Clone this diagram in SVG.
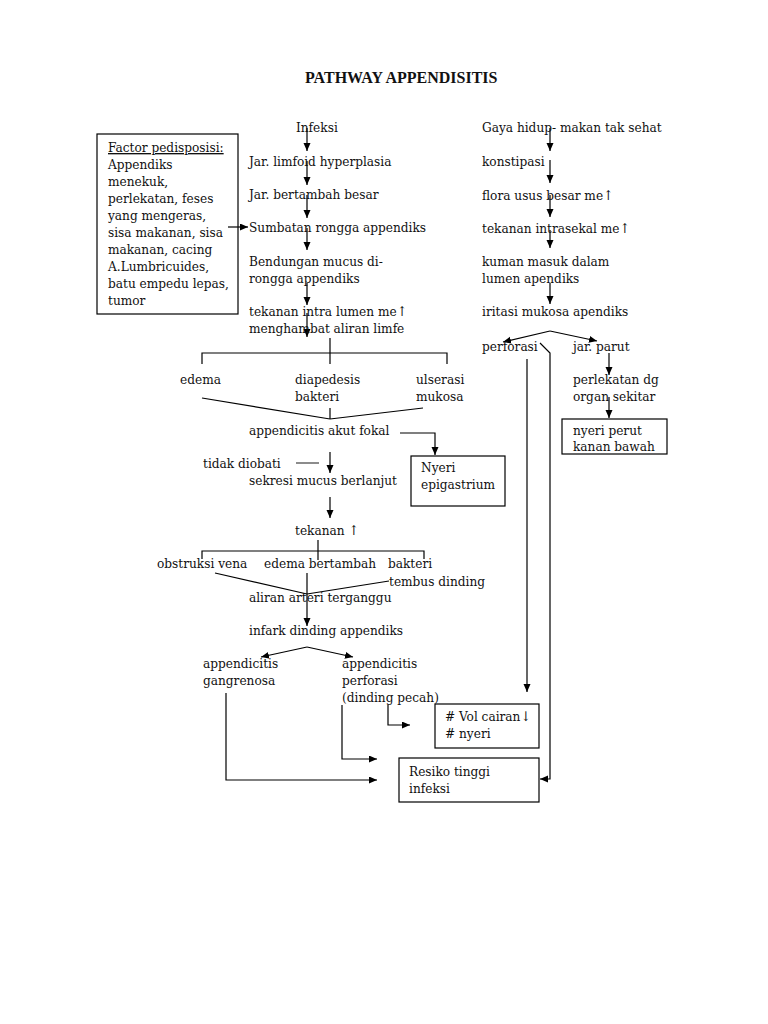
<svg xmlns="http://www.w3.org/2000/svg" width="768" height="1024" viewBox="0 0 768 1024">
<style>
  text { font-family: "DejaVu Serif Condensed", "DejaVu Serif", "Liberation Serif", serif; font-stretch: condensed; font-size: 13.5px; fill: #111; }
  .title { font-family: "Liberation Serif", "Times New Roman", serif; font-stretch: normal; font-size: 16px; font-weight: bold; }
  .box { fill: #fff; stroke: #000; stroke-width: 1.2; }
  .c { fill: none; stroke: #000; stroke-width: 1.2; }
  .a { fill: none; stroke: #000; stroke-width: 1.2; marker-end: url(#ah); }
  .g { fill: none; stroke: #666; stroke-width: 1.5; }
</style>
<defs>
  <marker id="ah" markerUnits="userSpaceOnUse" markerWidth="9" markerHeight="8" refX="8" refY="3.5" orient="auto">
    <path d="M0,0 L8,3.5 L0,7 z" fill="#000"/>
  </marker>
</defs>
<rect width="768" height="1024" fill="#fff"/>

<g id="title"><text class="title" x="305" y="83">PATHWAY APPENDISITIS</text></g>

<g id="factor">
  <rect class="box" x="97" y="134" width="141" height="180"/>
  <text x="108" y="152" text-decoration="underline">Factor pedisposisi:</text>
  <text x="108" y="169">Appendiks</text>
  <text x="108" y="186">menekuk,</text>
  <text x="108" y="203">perlekatan, feses</text>
  <text x="108" y="220">yang mengeras,</text>
  <text x="108" y="237">sisa makanan, sisa</text>
  <text x="108" y="254">makanan, cacing</text>
  <text x="108" y="271">A.Lumbricuides,</text>
  <text x="108" y="288">batu empedu lepas,</text>
  <text x="108" y="305">tumor</text>
</g>

<g id="connectors">
  <line class="a" x1="307" y1="128" x2="307" y2="151"/>
  <line class="a" x1="307" y1="161" x2="307" y2="185"/>
  <line class="a" x1="307" y1="195" x2="307" y2="218"/>
  <line class="a" x1="307" y1="228" x2="307" y2="250"/>
  <line class="a" x1="307" y1="283" x2="307" y2="305"/>
  <line class="a" x1="307" y1="313" x2="307" y2="337"/>
  <line class="a" x1="228" y1="227" x2="248" y2="227"/>
  <line class="c" x1="330" y1="338" x2="330" y2="364"/>
  <polyline class="c" points="202,364 202,353 447,353 447,364"/>
  <line class="c" x1="202" y1="398" x2="330" y2="419"/>
  <line class="c" x1="423" y1="408" x2="330" y2="419"/>
  <line class="c" x1="330" y1="408" x2="330" y2="419"/>
  <polyline class="a" points="400,433 435,433 435,455"/>
  <line class="g" x1="296" y1="463" x2="319" y2="463"/>
  <line class="a" x1="330" y1="452" x2="330" y2="473"/>
  <line class="a" x1="330" y1="497" x2="330" y2="518"/>
  <line class="c" x1="318" y1="540" x2="318" y2="560"/>
  <polyline class="c" points="202,559 202,551 424,551 424,559"/>
  <line class="c" x1="215" y1="573" x2="307" y2="594"/>
  <line class="c" x1="389" y1="581" x2="307" y2="594"/>
  <line class="c" x1="307" y1="573" x2="307" y2="596"/>
  <line class="a" x1="307" y1="596" x2="307" y2="626"/>
  <line class="a" x1="307" y1="647" x2="261" y2="657"/>
  <line class="a" x1="307" y1="647" x2="353" y2="657"/>
  <polyline class="a" points="226,693 226,780 377,780"/>
  <polyline class="a" points="342,705 342,759 377,759"/>
  <polyline class="a" points="388,705 388,725 410,725"/>

  <line class="a" x1="550" y1="128" x2="550" y2="151"/>
  <line class="a" x1="550" y1="160" x2="550" y2="183"/>
  <line class="a" x1="550" y1="195" x2="550" y2="217"/>
  <line class="a" x1="550" y1="230" x2="550" y2="248"/>
  <line class="a" x1="550" y1="283" x2="550" y2="304"/>
  <line class="a" x1="550" y1="331" x2="503" y2="342"/>
  <line class="a" x1="550" y1="331" x2="597" y2="341"/>
  <polyline class="a" points="540,343 550,353 550,779 540,779"/>
  <line class="a" x1="527" y1="359" x2="527" y2="692"/>
  <line class="a" x1="609" y1="353" x2="609" y2="375"/>
  <line class="a" x1="609" y1="397" x2="609" y2="418"/>
</g>

<g id="infeksi"><text x="296" y="132">Infeksi</text></g>
<g id="limfoid"><text x="249" y="166">Jar. limfoid hyperplasia</text></g>
<g id="bertambah"><text x="249" y="199">Jar. bertambah besar</text></g>
<g id="sumbatan"><text x="249" y="232">Sumbatan rongga appendiks</text></g>
<g id="bendungan"><text x="249" y="266">Bendungan mucus di-</text><text x="249" y="283">rongga appendiks</text></g>
<g id="tekanan-intra"><text x="249" y="316">tekanan intra lumen me↑</text><text x="249" y="333">menghambat aliran limfe</text></g>
<g id="edema"><text x="180" y="384">edema</text></g>
<g id="diapedesis"><text x="295" y="384">diapedesis</text><text x="295" y="401">bakteri</text></g>
<g id="ulserasi"><text x="416" y="384">ulserasi</text><text x="416" y="401">mukosa</text></g>
<g id="akut-fokal"><text x="249" y="435">appendicitis akut fokal</text></g>
<g id="nyeri-epi">
  <rect class="box" x="411" y="456" width="94" height="50"/>
  <text x="421" y="472">Nyeri</text><text x="421" y="489">epigastrium</text>
</g>
<g id="tidak-diobati"><text x="203" y="468">tidak diobati</text></g>
<g id="sekresi"><text x="249" y="485">sekresi mucus berlanjut</text></g>
<g id="tekanan"><text x="295" y="535">tekanan ↑</text></g>
<g id="obstruksi"><text x="157" y="568">obstruksi vena</text></g>
<g id="edema-bertambah"><text x="264" y="568">edema bertambah</text></g>
<g id="bakteri-tembus"><text x="388" y="568">bakteri</text><text x="389" y="586">tembus dinding</text></g>
<g id="aliran"><text x="249" y="602">aliran arteri terganggu</text></g>
<g id="infark"><text x="249" y="635">infark dinding appendiks</text></g>
<g id="gangrenosa"><text x="203" y="668">appendicitis</text><text x="203" y="685">gangrenosa</text></g>
<g id="perforasi-app"><text x="342" y="668">appendicitis</text><text x="342" y="685">perforasi</text><text x="342" y="702">(dinding pecah)</text></g>
<g id="vol">
  <rect class="box" x="435" y="704" width="104" height="44"/>
  <text x="445" y="721"># Vol cairan↓</text><text x="445" y="738"># nyeri</text>
</g>
<g id="resiko">
  <rect class="box" x="399" y="758" width="140" height="44"/>
  <text x="409" y="776">Resiko tinggi</text><text x="409" y="793">infeksi</text>
</g>

<g id="gaya"><text x="482" y="132">Gaya hidup- makan tak sehat</text></g>
<g id="konstipasi"><text x="482" y="166">konstipasi</text></g>
<g id="flora"><text x="482" y="200">flora usus besar me↑</text></g>
<g id="intrasekal"><text x="482" y="233">tekanan intrasekal me↑</text></g>
<g id="kuman"><text x="482" y="266">kuman masuk dalam</text><text x="482" y="283">lumen apendiks</text></g>
<g id="iritasi"><text x="482" y="316">iritasi mukosa apendiks</text></g>
<g id="perforasi"><text x="482" y="351">perforasi</text></g>
<g id="parut"><text x="573" y="351">jar. parut</text></g>
<g id="perlekatan"><text x="573" y="384">perlekatan dg</text><text x="573" y="401">organ sekitar</text></g>
<g id="nyeri-perut">
  <rect class="box" x="562" y="419" width="105" height="35"/>
  <text x="573" y="435">nyeri perut</text><text x="573" y="451">kanan bawah</text>
</g>
</svg>
